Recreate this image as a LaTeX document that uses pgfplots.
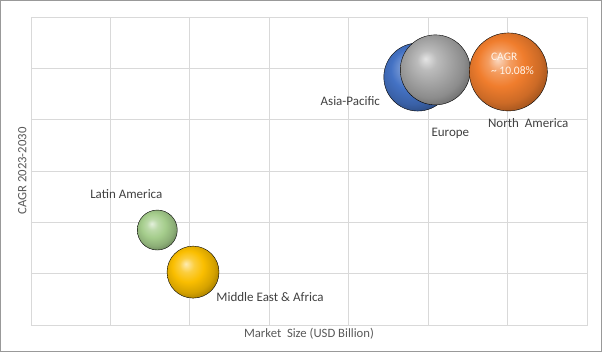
\documentclass[border=0pt]{standalone}
\usepackage{pgfplots}
\pgfplotsset{compat=1.18}
\usepackage{fontspec}
\setmainfont{Carlito}
\definecolor{gridc}{RGB}{217,217,217}
\definecolor{txt}{RGB}{64,64,64}
\definecolor{axtxt}{RGB}{89,89,89}
\definecolor{cblue}{RGB}{68,114,196}
\definecolor{cgray}{RGB}{165,165,165}
\definecolor{corange}{RGB}{240,125,45}
\definecolor{cgreen}{RGB}{165,205,140}
\definecolor{cgold}{RGB}{250,190,0}
\makeatletter
\pgfdeclareradialshading[tikz@ball]{ball}{\pgfqpoint{-7bp}{8bp}}{%
  color(0bp)=(tikz@ball!30!white);
  color(7bp)=(tikz@ball!75!white);
  color(15bp)=(tikz@ball);
  color(24bp)=(tikz@ball!85!black);
  color(32bp)=(tikz@ball!60!black);
  color(50bp)=(tikz@ball!45!black)}
\makeatother
\begin{document}
\begin{tikzpicture}
\begin{axis}[
  scale only axis, width=556pt, height=308pt,
  xmin=0, xmax=7, ymin=0, ymax=6,
  xtick={0,...,7}, ytick={0,...,6},
  xticklabels={}, yticklabels={},
  major tick length=0pt,
  grid=major, grid style={draw=gridc, line width=0.8pt},
  axis line style={draw=gridc, line width=0.8pt},
  clip=false,
  xlabel={Market\ \ Size (USD Billion)}, ylabel={CAGR 2023-2030},
  label style={font=\fontsize{12.7}{14}\selectfont, text=axtxt},
  xlabel style={at={(axis description cs:0.5,0)}, anchor=north, yshift=0pt},
  ylabel style={at={(axis description cs:0,0.5)}, anchor=south, yshift=1pt},
]
\addplot[only marks, mark=ball, mark size=34pt, ball color=cblue] coordinates {(4.87,4.83)};
\addplot[only marks, mark=ball, mark size=35pt, ball color=cgray] coordinates {(5.09,4.97)};
\addplot[only marks, mark=ball, mark size=39pt, ball color=corange] coordinates {(6.01,4.93)};
\addplot[only marks, mark=ball, mark size=20pt, ball color=cgreen] coordinates {(1.59,1.85)};
\addplot[only marks, mark=ball, mark size=26pt, ball color=cgold] coordinates {(2.04,1.03)};
\coordinate (cagr) at (axis cs:5.79,5.09);
\coordinate (lap) at (axis cs:4.02,4.37);
\coordinate (leu) at (axis cs:5.28,3.74);
\coordinate (lna) at (axis cs:6.26,3.94);
\coordinate (lla) at (axis cs:1.20,2.55);
\coordinate (lme) at (axis cs:3.01,0.55);
\end{axis}
\begin{scope}[font=\fontsize{13}{15}\selectfont, text=txt]
\node at (lap) {Asia-Pacific};
\node at (leu) {Europe};
\node at (lna) {North\ \ America};
\node at (lla) {Latin America};
\node at (lme) {Middle East \& Africa};
\end{scope}
\node[anchor=west, text=white!92!orange, font=\fontsize{11.5}{13}\selectfont, align=left, inner sep=0pt] at (cagr) {CAGR\\[1.5pt]\textasciitilde\ 10.08\%};
\pgfresetboundingbox
\draw[draw=gray!80, line width=1pt] ([shift={(-30.5pt,-26.5pt)}]current axis.south west) rectangle ([shift={(14.5pt,16.5pt)}]current axis.north east);
\end{tikzpicture}
\end{document}
